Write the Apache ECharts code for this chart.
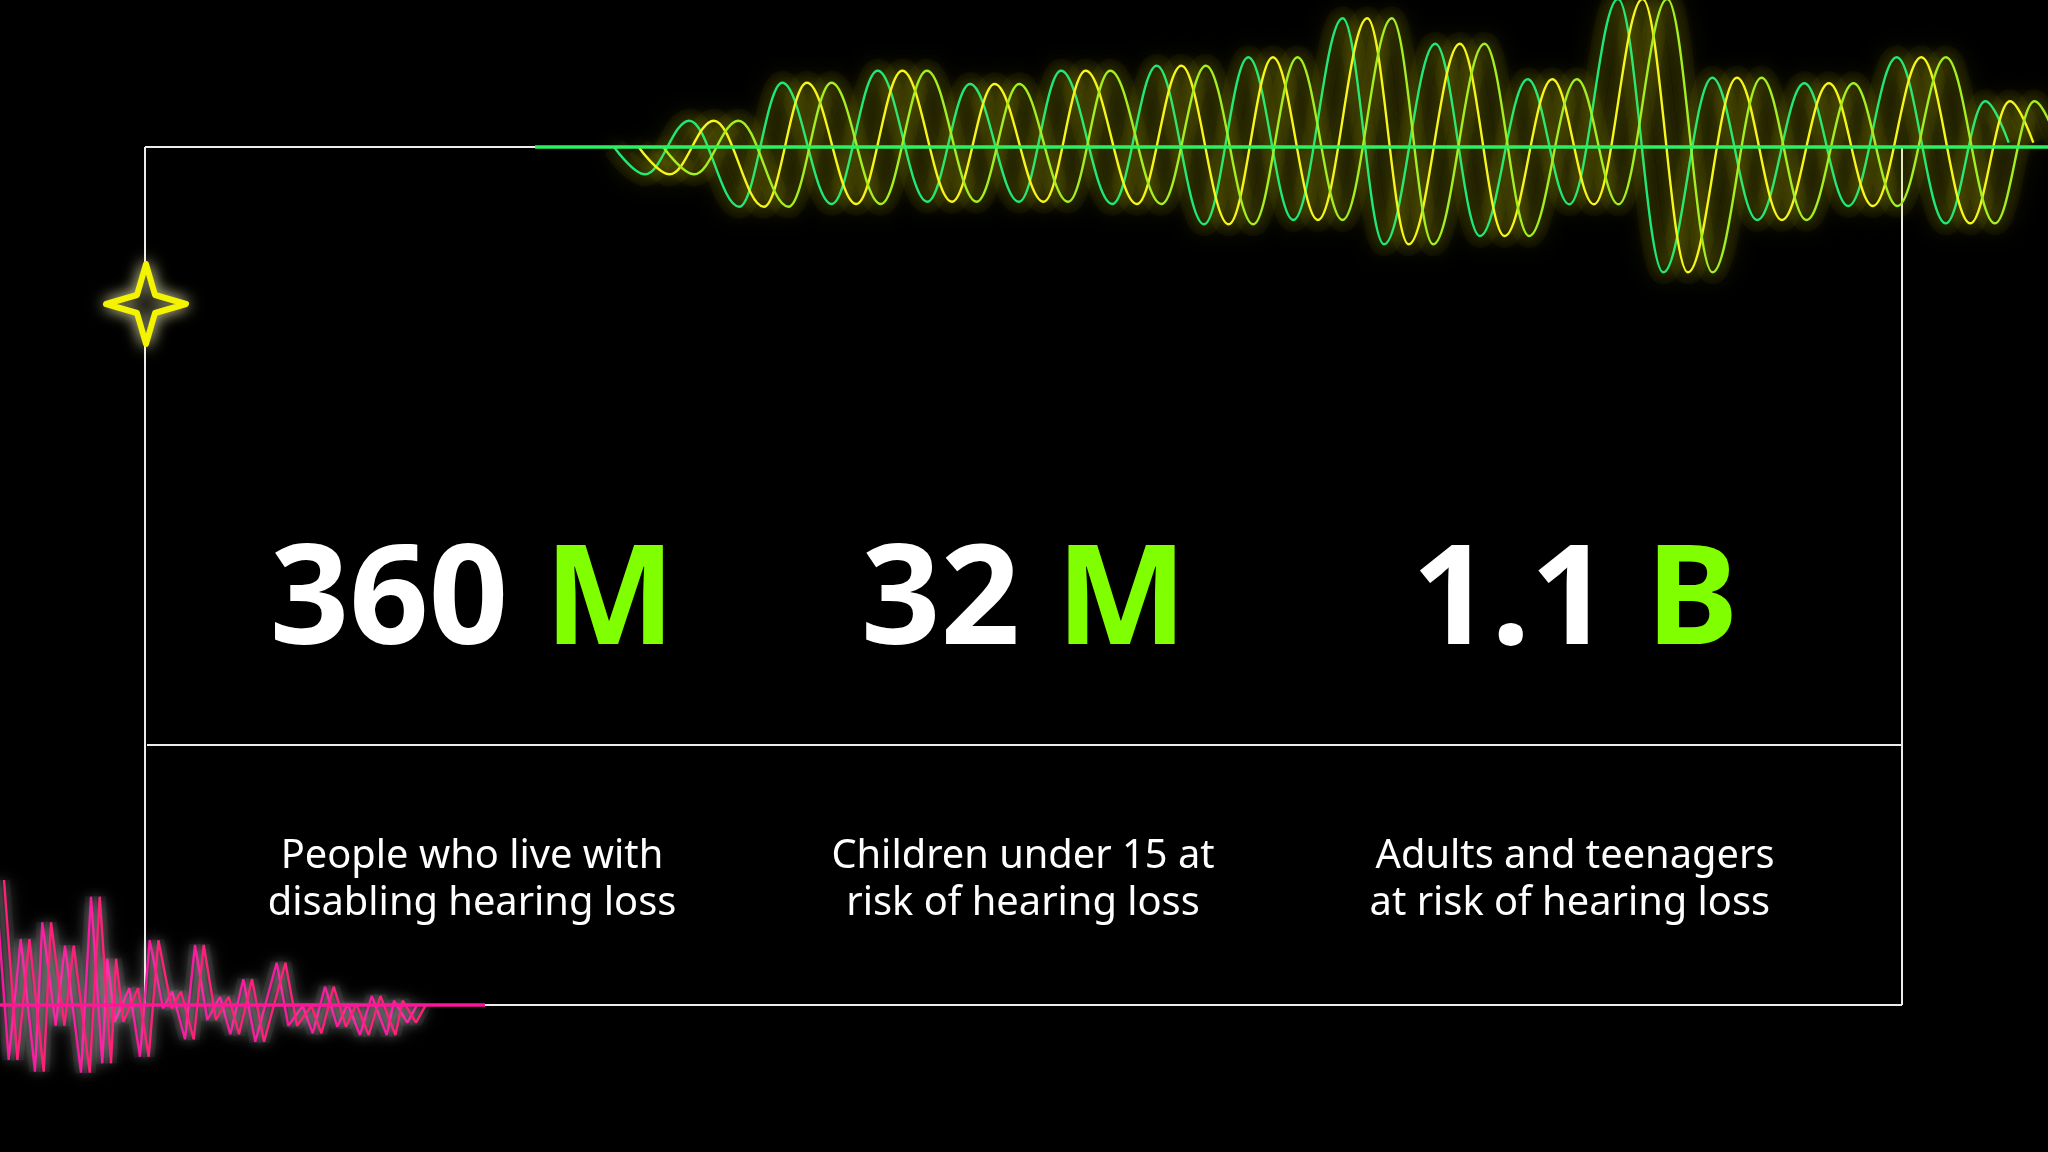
<!DOCTYPE html>
<html>
<head>
<meta charset="utf-8">
<title>Hearing loss</title>
<style>
html, body { margin: 0; padding: 0; background: #000; }
#main { width: 2048px; height: 1152px; }
</style>
<script src="https://cdn.jsdelivr.net/npm/echarts@6/dist/echarts.min.js"></script>
</head>
<body>
<div id="main"></div>
<script>
// big numbers and captions
var statValues = ['360', '32', '1.1'];
var statUnits = ['M', 'M', 'B'];
var statCaptions = [
	'People who live with\ndisabling hearing loss',
	'Children under 15 at\nrisk of hearing loss',
	'Adults and teenagers\nat risk of hearing loss '
];

// top wave: start point and turning points
var waveAmp = [0, -27.3, 26.3, -59.7, 64.3, -57, 76.3, -54.7, 63, -54.7, 76.3, -57, 81.3, -77.3, 89.7, -73, 128.7, -97.3, 103.3, -89, 67.7, -57.3, 148, -125.3, 69.3, -73, 63.7, -59, 89.7, -76.3, 45.7, 4.3];
var waveGreenX = [614, 645, 689.3, 739.3, 782.3, 831.7, 877.7, 927.3, 970, 1019, 1061, 1112.3, 1156.7, 1204, 1248.3, 1293.3, 1342.7, 1384, 1435.3, 1480, 1527.7, 1569.3, 1618, 1663.3, 1712.3, 1757.3, 1804.3, 1848.3, 1896.7, 1945.7, 1985.3, 2008.7];
var waveYellowX = [638.6, 669.6, 713.9, 763.9, 806.9, 856.3, 902.3, 951.9, 994.6, 1043.6, 1085.6, 1136.9, 1181.3, 1228.6, 1272.9, 1317.9, 1367.3, 1408.6, 1459.9, 1504.6, 1552.3, 1593.9, 1642.6, 1687.9, 1736.9, 1781.9, 1828.9, 1872.9, 1921.3, 1970.3, 2009.9, 2033.3];
var waveLimeX = [663.2, 694.2, 738.5, 788.5, 831.5, 880.9, 926.9, 976.5, 1019.2, 1068.2, 1110.2, 1161.5, 1205.9, 1253.2, 1297.5, 1342.5, 1391.9, 1433.2, 1484.5, 1529.2, 1576.9, 1618.5, 1667.2, 1712.5, 1761.5, 1806.5, 1853.5, 1897.5, 1945.9, 1994.9, 2034.5, 2057.9];

// pink wave vertices
var pinkAmp = [125, -55, 66, -66.7, 82.7, -20.7, 59.3, -67.7, 108.3, -58.3, 46.3, -16.7, 16.7, -51.7, 64.7, -3.3, 13.3, -34.3, 60, -15, 8.3, -29.3, 25.7, -36.7, 42.3, -20.7, -1, -28.3, 18.3, -21.7, 1, -30, 9, -30, 4.3, -17.7, -0.7];
var pinkMagentaX = [-4.7, 8.7, 20.7, 35, 42.3, 55.7, 65, 81, 91, 102.3, 107.3, 114.7, 129.3, 140, 149.7, 163, 172.3, 185, 195, 207.3, 220, 230.3, 243.3, 255.3, 276.7, 288.3, 302.7, 312.7, 325, 337.3, 347.7, 360, 371.7, 386.7, 394, 407.3, 416.7];
var pinkRoseX = [4, 17.4, 29.4, 43.7, 51, 64.4, 73.7, 89.7, 99.7, 111, 116, 123.4, 138, 148.7, 158.4, 171.7, 181, 193.7, 203.7, 216, 228.7, 239, 252, 264, 285.4, 297, 311.4, 321.4, 333.7, 346, 356.4, 368.7, 380.4, 395.4, 402.7, 416, 425.4];

var baseTopX = [535, 2048];
var baseBottomX = [0, 485];

function zip(xs, ys) {
	return xs.map(function (x, i) { return [x, ys[i]]; });
}

function waveSeries(xs, amps, color) {
	return {
		type: 'line',
		z: 3,
		xAxisIndex: 0,
		yAxisIndex: 0,
		data: zip(xs, amps),
		smooth: 0.37,
		smoothMonotone: 'x',
		symbol: 'none',
		silent: true,
		lineStyle: { color: color, width: 2.4, shadowColor: 'rgba(235,235,0,0.75)', shadowBlur: 16 }
	};
}

// wide dim stroke under a wave, makes the olive haze between the loops
function waveHaze(xs, amps) {
	return {
		type: 'line',
		z: 1,
		xAxisIndex: 0,
		yAxisIndex: 0,
		data: zip(xs, amps),
		smooth: 0.37,
		smoothMonotone: 'x',
		symbol: 'none',
		silent: true,
		lineStyle: { color: 'rgba(170,170,0,0.05)', width: 24, shadowColor: 'rgba(255,255,0,1)', shadowBlur: 30 }
	};
}

function pinkHaze(xs, amps) {
	return {
		type: 'line',
		z: 1,
		xAxisIndex: 0,
		yAxisIndex: 1,
		data: zip(xs, amps),
		symbol: 'none',
		silent: true,
		lineStyle: { color: 'rgba(170,170,170,0.08)', width: 12, shadowColor: 'rgba(255,255,255,1)', shadowBlur: 22 }
	};
}

function pinkSeries(xs, amps, color) {
	return {
		type: 'line',
		z: 3,
		xAxisIndex: 0,
		yAxisIndex: 1,
		data: zip(xs, amps),
		symbol: 'none',
		silent: true,
		lineStyle: { color: color, width: 2.4, shadowColor: 'rgba(255,255,255,0.55)', shadowBlur: 14 }
	};
}

function baseSeries(xs, axisIndex, color) {
	return {
		type: 'line',
		z: 4,
		xAxisIndex: 0,
		yAxisIndex: axisIndex,
		data: zip(xs, [0, 0]),
		symbol: 'none',
		silent: true,
		lineStyle: { color: color, width: 3.4 }
	};
}

function line(x1, y1, x2, y2) {
	return {
		type: 'line',
		z: -1,
		shape: { x1: x1, y1: y1, x2: x2, y2: y2 },
		style: { stroke: '#ececec', lineWidth: 2 }
	};
}

var statCenters = [472.5, 1024, 1575];
var captionCenters = [472, 1023, 1575];

var graphics = [
	line(145, 147, 535, 147),
	line(485, 1005, 1902, 1005),
	line(145, 147, 145, 1005),
	line(1902, 147, 1902, 1005),
	line(147, 745, 1902, 745),
	{
		type: 'polygon',
		z: 10,
		shape: { points: [[146, 264], [155, 295], [186, 304], [155, 313], [146, 344], [137, 313], [106, 304], [137, 295]] },
		style: { fill: '#000', stroke: '#f4f400', lineWidth: 6, lineJoin: 'round', shadowColor: 'rgba(255,255,190,0.75)', shadowBlur: 16 }
	}
];

statValues.forEach(function (v, i) {
	graphics.push({
		type: 'text',
		z: 5,
		style: {
			x: statCenters[i],
			y: 604,
			text: '{a|' + v + ' }{b|' + statUnits[i] + '}',
			align: 'center',
			verticalAlign: 'middle',
			rich: {
				a: { fill: '#fff', font: 'bold 139px "Noto Sans"' },
				b: { fill: '#7fff00', font: 'bold 139px "Noto Sans"' }
			}
		}
	});
	graphics.push({
		type: 'text',
		z: 5,
		style: {
			x: captionCenters[i],
			y: 880,
			text: statCaptions[i],
			align: 'center',
			verticalAlign: 'middle',
			fill: '#fff',
			font: '39.8px "Noto Sans"',
			lineHeight: 47.5
		}
	});
});

var myChart = echarts.init(document.getElementById('main'));

var option = {
	backgroundColor: '#000',
	animation: false,
	grid: { left: 0, right: 0, top: 0, bottom: 0 },
	xAxis: { type: 'value', min: 0, max: 2048, show: false },
	yAxis: [
		{ type: 'value', min: -1005, max: 147, show: false },
		{ type: 'value', min: -147, max: 1005, show: false }
	],
	series: [
		waveHaze(waveGreenX, waveAmp),
		waveHaze(waveYellowX, waveAmp),
		waveHaze(waveLimeX, waveAmp),
		waveSeries(waveGreenX, waveAmp, '#20e878'),
		waveSeries(waveYellowX, waveAmp, '#f6f61e'),
		waveSeries(waveLimeX, waveAmp, '#a4ee22'),
		baseSeries(baseTopX, 0, '#2cf060'),
		pinkHaze(pinkMagentaX, pinkAmp),
		pinkHaze(pinkRoseX, pinkAmp),
		pinkSeries(pinkMagentaX, pinkAmp, '#f8109c'),
		pinkSeries(pinkRoseX, pinkAmp, '#ff2078'),
		baseSeries(baseBottomX, 1, '#ff149a')
	],
	graphic: graphics
};

// show the Chart
myChart.setOption(option);
</script>
</body>
</html>
